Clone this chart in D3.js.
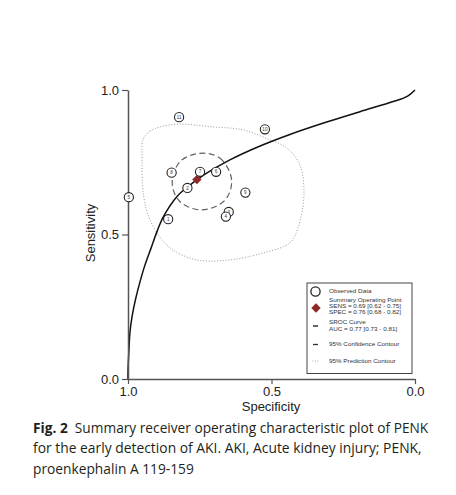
<!DOCTYPE html>
<html><head><meta charset="utf-8">
<script src="https://cdn.jsdelivr.net/npm/d3@7"></script>
<style>body{margin:0;background:#fff}svg{display:block}</style>
</head><body>
<svg id="c" width="456" height="495"></svg>
<script>
// ---------- data ----------
const axisTicks = [1, 0.5, 0];
const tickLabels = ["1.0", "0.5", "0.0"];
const xTitle = "Specificity";
const yTitle = "Sensitivity";

const studyIds  = ["11", "10", "8", "7", "6", "2", "9", "3", "4", "1", "5"];
const studySpec = [0.822, 0.523, 0.848, 0.749, 0.693, 0.793, 0.591, 0.649, 0.659, 0.860, 0.997];
const studySens = [0.906, 0.864, 0.714, 0.717, 0.717, 0.661, 0.645, 0.578, 0.562, 0.553, 0.629];

const summarySpec = 0.76;
const summarySens = 0.69;

const srocSpec = [1.0, 1.0, 0.9965, 0.993, 0.985, 0.973, 0.958, 0.941, 0.920, 0.899, 0.877, 0.830, 0.784, 0.757, 0.726, 0.645, 0.552, 0.436, 0.308, 0.192, 0.076, 0.029, 0.0];
const srocSens = [0.0, 0.025, 0.106, 0.164, 0.221, 0.279, 0.337, 0.394, 0.452, 0.510, 0.561, 0.631, 0.671, 0.691, 0.712, 0.758, 0.801, 0.846, 0.889, 0.925, 0.960, 0.977, 1.0];

const confSpec = [0.749, 0.679, 0.639, 0.662, 0.743, 0.819, 0.846, 0.819];
const confSens = [0.781, 0.764, 0.689, 0.619, 0.585, 0.614, 0.677, 0.752];

const predSpec = [0.948, 0.923, 0.889, 0.819, 0.714, 0.599, 0.505, 0.446, 0.401, 0.387, 0.408, 0.436, 0.530, 0.645, 0.760, 0.843, 0.889, 0.930, 0.948, 0.951];
const predSens = [0.827, 0.858, 0.872, 0.882, 0.873, 0.862, 0.827, 0.799, 0.740, 0.637, 0.522, 0.471, 0.436, 0.412, 0.412, 0.446, 0.491, 0.567, 0.654, 0.758];

const legendLabels = [
  ["Observed Data"],
  ["Summary Operating Point", "SENS = 0.69 [0.62 - 0.75]", "SPEC = 0.76 [0.68 - 0.82]"],
  ["SROC Curve", "AUC = 0.77 [0.73 - 0.81]"],
  ["95% Confidence Contour"],
  ["95% Prediction Contour"]
];

const captionBold = "Fig. 2";
const captionLines = [
  "Summary receiver operating characteristic plot of PENK",
  "for the early detection of AKI. AKI, Acute kidney injury; PENK,",
  "proenkephalin A 119-159"
];

// ---------- drawing ----------
const svg = d3.select("#c");
svg.append("rect").attr("width", 456).attr("height", 495).attr("fill", "#fff");

const x = d3.scaleLinear().domain([1, 0]).range([128, 415]);
const y = d3.scaleLinear().domain([0, 1]).range([379, 90]);

const axisColor = "#555";
const font = "'Liberation Sans', Arial, sans-serif";

// prediction contour
const predPts = predSpec.map((s, i) => [x(s), y(predSens[i])]);
svg.append("path")
  .attr("d", d3.line().curve(d3.curveCatmullRomClosed.alpha(0.5))(predPts))
  .attr("fill", "none").attr("stroke", "#9a9a9a").attr("stroke-width", 1)
  .attr("stroke-dasharray", "1 1.8");

// confidence contour
const confPts = confSpec.map((s, i) => [x(s), y(confSens[i])]);
svg.append("path")
  .attr("d", d3.line().curve(d3.curveCatmullRomClosed.alpha(0.5))(confPts))
  .attr("fill", "none").attr("stroke", "#606060").attr("stroke-width", 1.2)
  .attr("stroke-dasharray", "6 3.5");

// SROC curve
const srocPts = srocSpec.map((s, i) => [x(s), y(srocSens[i])]);
svg.append("path")
  .attr("d", d3.line().curve(d3.curveCatmullRom.alpha(0.5))(srocPts))
  .attr("fill", "none").attr("stroke", "#111").attr("stroke-width", 1.5);

// axes
const xAxis = d3.axisBottom(x).tickValues(axisTicks).tickFormat((d, i) => tickLabels[i])
  .tickSizeInner(5).tickSizeOuter(0).tickPadding(3);
const yAxis = d3.axisLeft(y).tickValues(axisTicks).tickFormat((d, i) => tickLabels[i])
  .tickSizeInner(6).tickSizeOuter(0).tickPadding(3);

const gx = svg.append("g").attr("transform", "translate(0,379)").call(xAxis);
const gy = svg.append("g").attr("transform", "translate(128,0)").call(yAxis);
[gx, gy].forEach(g => {
  g.select(".domain").attr("stroke", axisColor).attr("stroke-width", 1.5);
  g.selectAll(".tick line").attr("stroke", axisColor).attr("stroke-width", 1.2);
  g.selectAll(".tick text").attr("fill", "#222").style("font-family", font).style("font-size", "13px");
});

svg.append("text").text(xTitle).attr("x", 271).attr("y", 410.5)
  .attr("text-anchor", "middle").attr("fill", "#222")
  .style("font-family", font).style("font-size", "13px");
svg.append("text").text(yTitle)
  .attr("transform", "translate(95,233) rotate(-90)")
  .attr("text-anchor", "middle").attr("fill", "#222")
  .style("font-family", font).style("font-size", "13px");

// observed studies
const sg = svg.append("g").selectAll("g").data(studyIds).join("g")
  .attr("transform", (d, i) => `translate(${x(studySpec[i])},${y(studySens[i])})`);
sg.append("circle").attr("r", 4.6).attr("fill", "#fff").attr("stroke", "#222").attr("stroke-width", 1.1);
sg.append("text").text(d => d).attr("text-anchor", "middle").attr("dy", "0.35em")
  .attr("fill", "#333").style("font-family", font).style("font-size", "4.6px");

// summary point
const diamond = d3.symbol().type(d3.symbolSquare).size(44);
svg.append("path").attr("d", diamond())
  .attr("transform", `translate(${x(summarySpec)},${y(summarySens)}) rotate(45)`)
  .attr("fill", "#8b2a2a");

// legend
const lg = svg.append("g");
lg.append("rect").attr("x", 307).attr("y", 283).attr("width", 105).attr("height", 90.5)
  .attr("fill", "#fff").attr("stroke", "#444").attr("stroke-width", 1);
const iconX = 315.5, textX = 329;
const itemY = [[291.5], [299.8, 306.1, 312.4], [322.5, 328.8], [344.5], [361]];
legendLabels.forEach((lines, i) => {
  lines.forEach((t, j) => {
    lg.append("text").text(t).attr("x", 0).attr("y", 0).attr("dy", "0.35em")
      .attr("transform", `translate(${textX},${itemY[i][j]}) scale(1.15,1)`)
      .attr("fill", "#333").style("font-family", font).style("font-size", "5.5px");
  });
});
lg.append("circle").attr("cx", iconX).attr("cy", 291.5).attr("r", 4.6)
  .attr("fill", "#fff").attr("stroke", "#222").attr("stroke-width", 1.3);
lg.append("path").attr("d", diamond())
  .attr("transform", `translate(${iconX + 0.5},308) rotate(45)`).attr("fill", "#8b2a2a");
lg.append("line").attr("x1", iconX - 2.5).attr("x2", iconX + 2.5).attr("y1", 326).attr("y2", 326)
  .attr("stroke", "#222").attr("stroke-width", 1.4);
lg.append("line").attr("x1", iconX - 2.5).attr("x2", iconX + 2.5).attr("y1", 344.5).attr("y2", 344.5)
  .attr("stroke", "#333").attr("stroke-width", 1.3);
lg.append("line").attr("x1", iconX - 3).attr("x2", iconX + 3).attr("y1", 361).attr("y2", 361)
  .attr("stroke", "#aaa").attr("stroke-width", 1).attr("stroke-dasharray", "1 1.5");

// caption
const capFont = "'Open Sans', 'Noto Sans', sans-serif";
const capY = [432.7, 453.3, 474];
const capW = [396, 389, 161];
captionLines.forEach((t, i) => {
  const tx = svg.append("text").attr("x", 0).attr("y", 0).attr("fill", "#231f20")
    .style("font-family", capFont).style("font-size", "14px");
  if (i === 0) {
    tx.append("tspan").text(captionBold).style("font-weight", "700");
    tx.append("tspan").text("\u00a0\u00a0" + t);
  } else {
    tx.text(t);
  }
  const w = tx.node().getBBox().width;
  const k = capW[i] / w;
  tx.attr("transform", `translate(33,${capY[i]}) scale(${k},1)`);
});
</script>
</body></html>
